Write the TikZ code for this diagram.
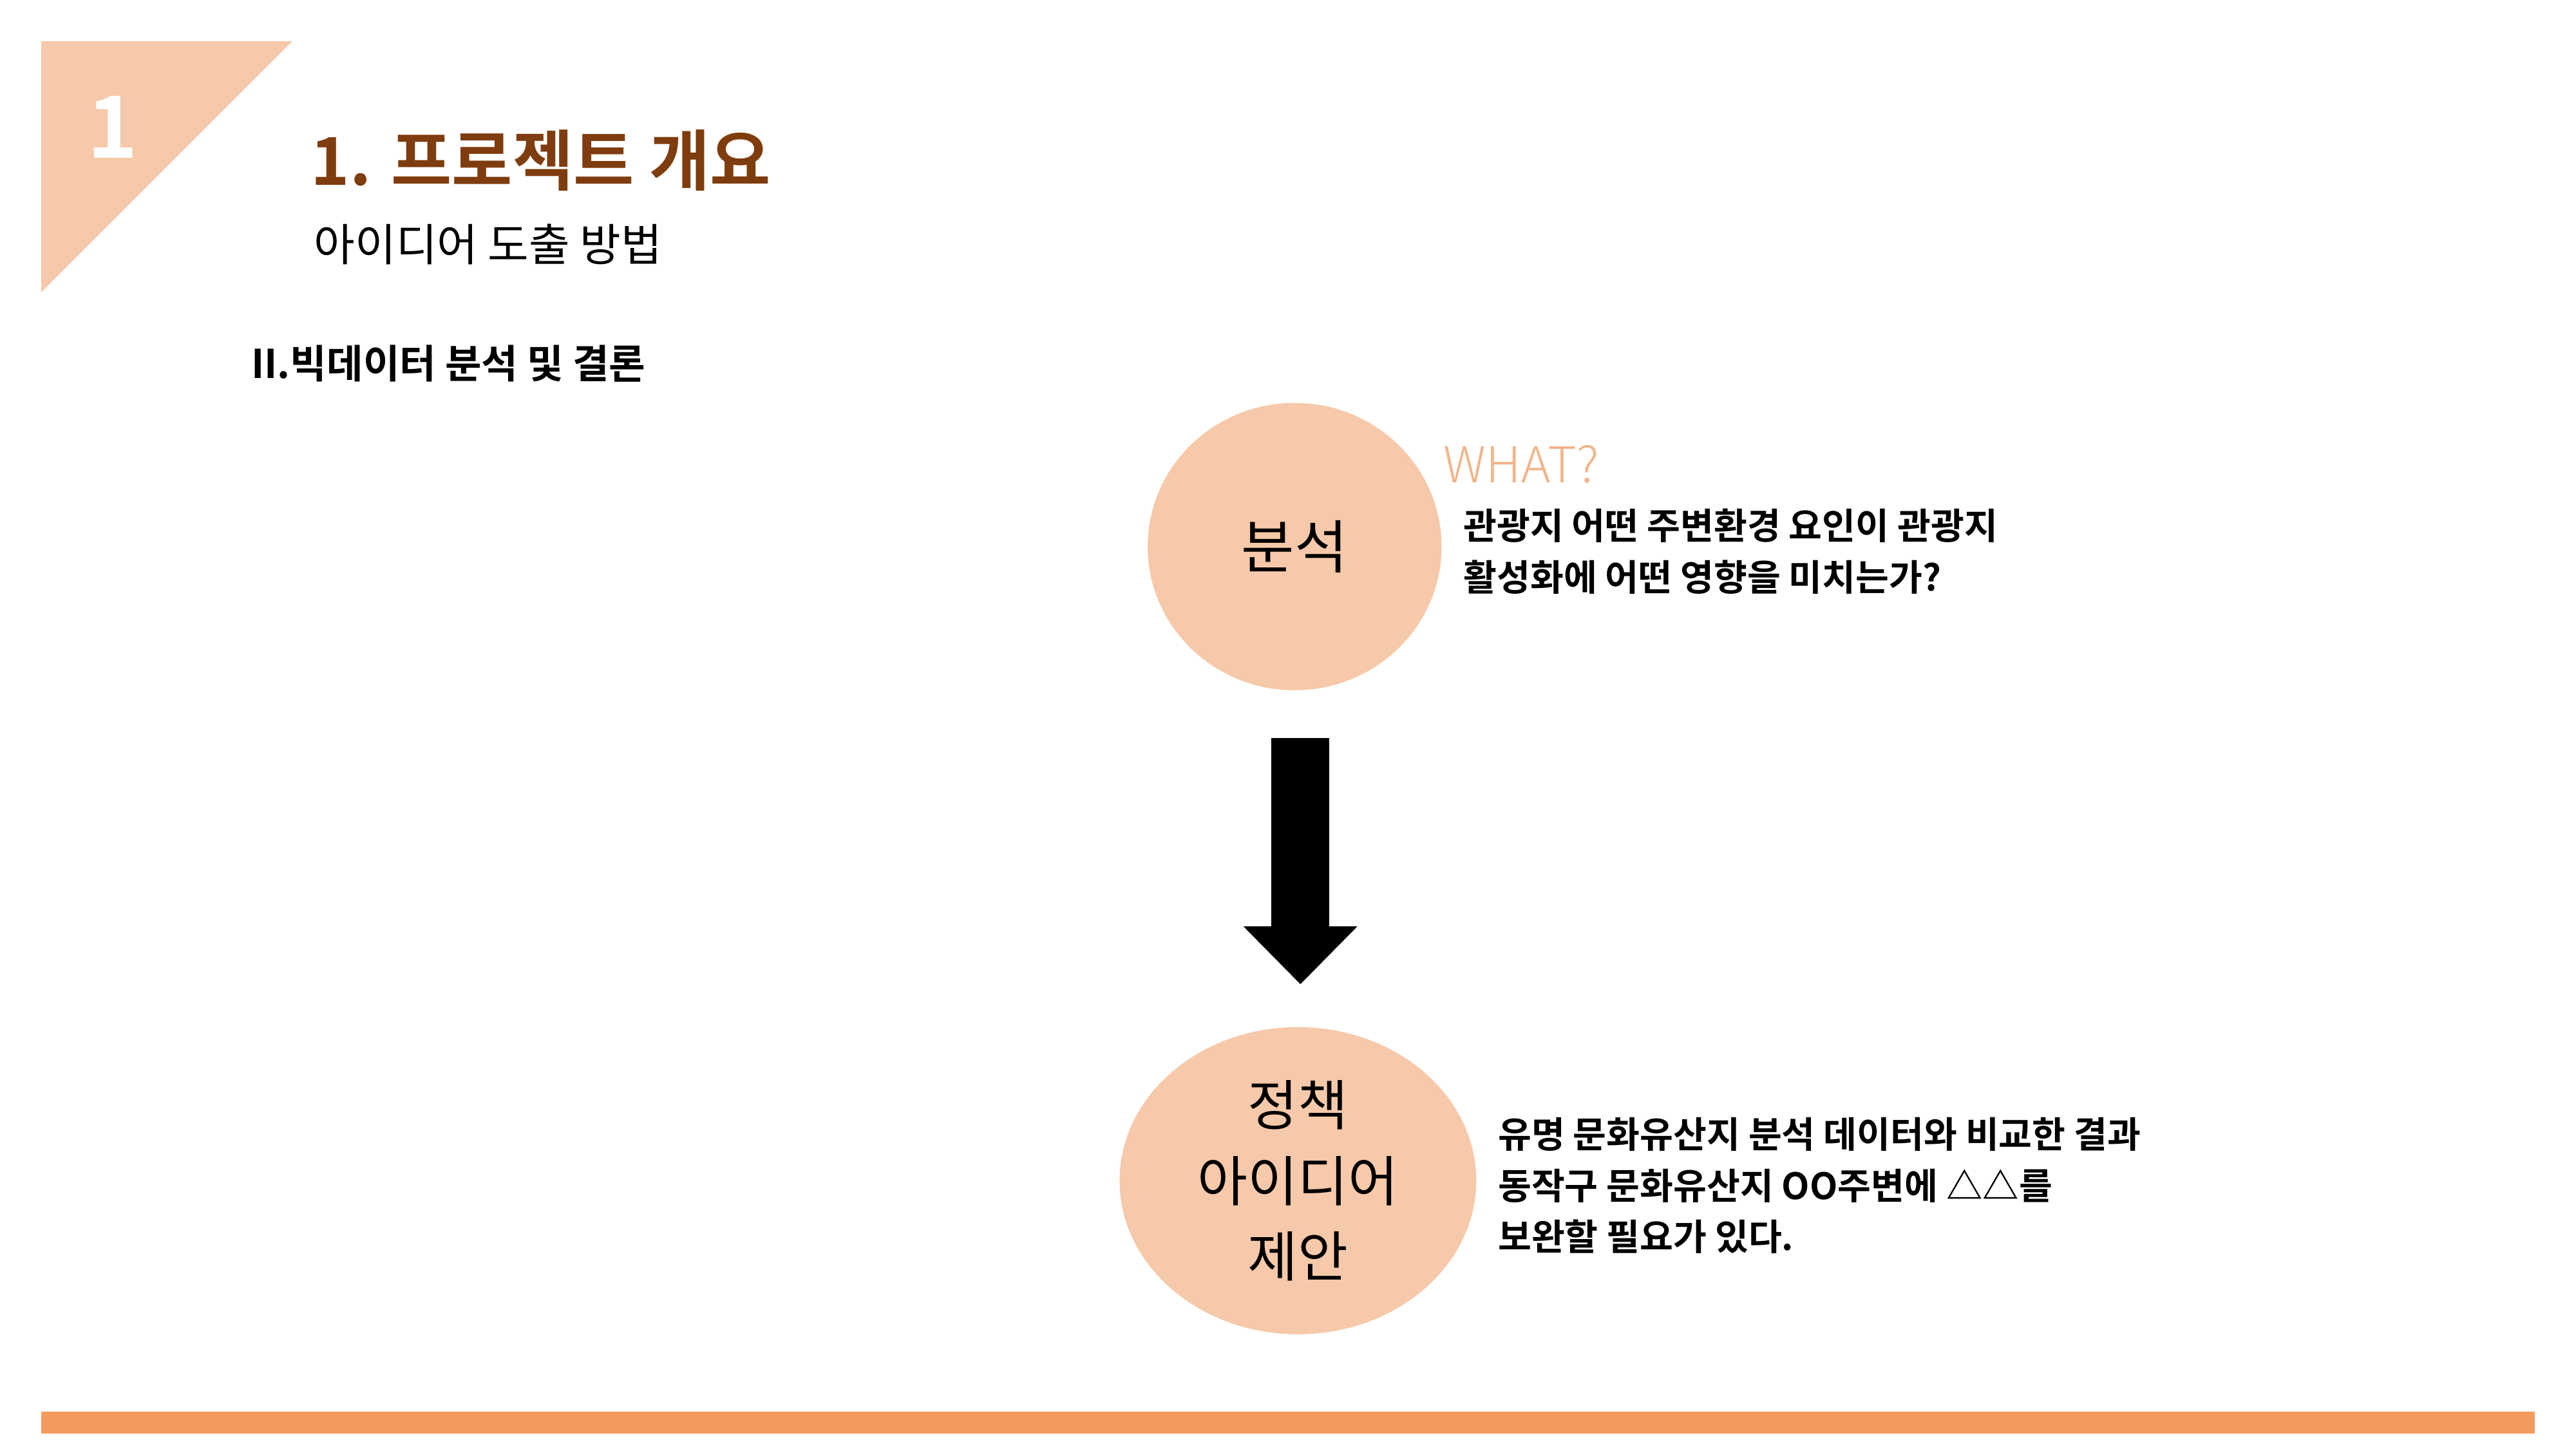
\documentclass[tikz,border=0pt]{standalone}
\usepackage{fontspec}
\usetikzlibrary{shapes.geometric}
\setmainfont{Noto Sans CJK KR}
\newfontfamily\krb{Noto Sans CJK KR Bold}
\newfontfamily\krl{Noto Sans CJK KR Light}
\definecolor{peach}{HTML}{F6C9AA}
\definecolor{brown}{HTML}{7F3C0E}
\definecolor{bar}{HTML}{F39B5E}
\definecolor{what}{HTML}{F2B48A}
\begin{document}
\begin{tikzpicture}[x=1pt,y=-1pt,
  bubble/.style={ellipse,fill=peach,inner sep=0pt},
  body/.style={anchor=west,align=left,font=\fontsize{22}{31}\selectfont,inner sep=0pt}]
\useasboundingbox (0,0) rectangle (1560,877.5);
\fill[peach] (25,25) -- (177,25) -- (25,177) -- cycle;
\node[text=white,font=\krb\fontsize{52}{52}\selectfont] (num) at (68,77) {1};
\node[anchor=west,text=brown,font=\krb\fontsize{40}{40}\selectfont,inner sep=0pt] (title) at (188,97) {1. 프로젝트 개요};
\node[anchor=west,font=\fontsize{27}{27}\selectfont,inner sep=0pt] (sub) at (190,148) {아이디어 도출 방법};
\node[anchor=west,font=\krb\fontsize{24}{24}\selectfont,inner sep=0pt] (sec) at (152,220) {II.빅데이터 분석 및 결론};
\node[bubble,minimum width=178pt,minimum height=174pt,font=\fontsize{35}{35}\selectfont] (c1) at (784,331) {분석};
\node[anchor=west,text=what,font=\krl\fontsize{30}{30}\selectfont,inner sep=0pt] (what) at (874,281) {WHAT?};
\node[body] (t1) at (886,334) {\krb 관광지 어떤 주변환경 요인이 관광지\\ \krb 활성화에 어떤 영향을 미치는가?};
\fill (770,447) rectangle (805,562);
\fill (753,561) -- (822,561) -- (787.5,596) -- cycle;
\node[bubble,minimum width=216pt,minimum height=186pt,align=center,font=\fontsize{33}{46}\selectfont] (c2) at (786,715) {정책\\아이디어\\제안};
\node[body] (t2) at (907,718) {\krb 유명 문화유산지 분석 데이터와 비교한 결과\\ \krb 동작구 문화유산지 OO주변에 △△를\\ \krb 보완할 필요가 있다.};
\fill[bar] (25,855) rectangle (1535,868);
\end{tikzpicture}
\end{document}
